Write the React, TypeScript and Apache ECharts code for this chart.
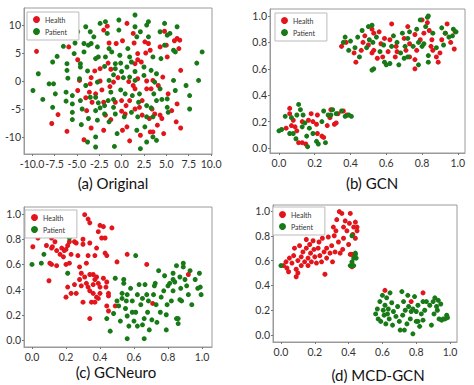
import React, { useEffect, useRef } from "react";
import * as echarts from "echarts";

// ---------- data ----------
const origHealth: number[][] = [
  [-9.5, 5.3], [-5.9, 6.1], [-4.9, 3.8], [-4.7, 0.1], [-4.9, -1.7], [-3.5, -0.5], [-3.6, -2.0], [-4.0, -3.0],
  [-3.3, -3.8], [-3.9, -5.3], [-3.4, -8.4], [-4.2, -10.5], [-6.1, -9.0], [-7.8, -7.6], [-7.1, -6.0], [-1.6, 9.8],
  [-2.0, 9.1], [-1.4, 6.8], [-1.5, 3.2], [-2.4, 2.2], [-1.2, 2.1], [-2.2, -1.6], [-1.3, -1.0], [-0.9, -0.2],
  [-0.4, 0.6], [-2.0, -3.8], [-1.8, -6.1], [-1.2, -6.9], [-2.0, -8.8], [-0.7, -3.8], [0.0, -3.5], [-0.6, 6.7],
  [0.1, 7.2], [0.6, 10.3], [1.3, 8.5], [1.4, 6.8], [1.8, 4.9], [1.8, 3.8], [0.8, -0.1], [1.3, -0.8],
  [1.5, -1.4], [1.8, 0.4], [2.8, 0.0], [2.8, -1.4], [2.3, -3.5], [2.0, -4.7], [2.3, -6.1], [0.4, -5.9],
  [0.6, -8.2], [0.9, -10.7], [2.1, -9.7], [3.2, -9.1], [3.5, -9.1], [4.0, -7.9], [4.5, -6.7], [4.3, -6.1],
  [4.7, -9.4], [3.1, -6.7], [3.7, -5.9], [3.4, -5.0], [3.3, -1.4], [3.5, 0.1], [4.1, -0.8], [4.6, 0.7],
  [5.2, -2.3], [2.6, 7.0], [3.0, 6.7], [3.2, 5.5], [2.7, 5.0], [2.2, 3.4], [4.3, 6.1], [4.8, 8.9],
  [5.0, 6.4], [5.1, 4.3], [5.9, 7.2], [6.2, 7.6], [6.4, 5.8], [6.5, 7.3], [6.6, 1.9], [6.2, -4.1],
  [6.1, -7.3], [6.6, -8.4], [5.6, -5.3], [0.1, -8.8], [0.0, -5.4], [0.5, -4.4], [0.9, -3.5], [1.5, 3.1],
  [-3.0, 1.8], [-3.4, 0.6], [-2.4, 0.0], [-2.9, -2.3], [1.5, -5.0],
];
const origPatient: number[][] = [
  [-9.9, -1.7], [-9.3, 1.3], [-8.8, -3.3], [-8.1, -0.5], [-7.7, 3.4], [-7.7, -4.7], [-7.6, -0.5], [-7.2, 4.4],
  [-7.4, -2.3], [-6.5, 6.2], [-6.1, 3.1], [-6.1, 1.9], [-6.0, 0.5], [-6.2, -2.0], [-6.2, -3.6], [-5.5, -2.6],
  [-5.5, -5.6], [-5.5, -6.9], [-5.5, -4.1], [-5.2, 6.8], [-5.3, 4.9], [-4.6, 3.1], [-4.6, 2.5], [-4.4, -5.0],
  [-4.5, -7.8], [-3.8, -10.9], [-4.2, 5.2], [-4.0, 9.7], [-3.7, 6.4], [-3.8, 1.8], [-3.5, 8.8], [-3.1, 7.9],
  [-2.7, 6.1], [-2.9, 4.0], [-2.6, 4.3], [-2.7, -0.2], [-2.9, -2.9], [-2.6, -3.9], [-2.9, -5.3], [-2.4, -4.8],
  [-2.9, -10.0], [-2.9, -11.8], [-2.4, 10.3], [-1.8, 10.6], [-1.6, 8.5], [-1.4, 5.8], [-1.1, 5.2], [-1.8, 4.3],
  [-1.9, 2.6], [-1.4, 0.1], [-1.2, -2.0], [-1.5, -3.5], [-0.9, -3.3], [-1.9, -4.4], [-0.9, -4.7], [-0.7, -5.9],
  [-1.4, -7.3], [-0.8, -11.7], [-0.5, -9.4], [-0.3, 10.9], [-0.3, 9.1], [-0.2, 4.6], [-0.1, 3.2], [0.0, 1.7],
  [0.2, 0.6], [-0.1, -1.6], [0.4, -2.3], [0.3, -6.4], [0.6, 2.5], [0.7, 5.8], [0.9, 4.3], [1.1, 3.4],
  [1.5, 11.8], [1.5, 9.7], [1.7, 7.9], [2.1, 8.8], [1.5, 1.7], [1.5, 0.1], [2.0, -2.3], [1.9, -3.8],
  [1.8, -6.4], [1.7, -8.8], [2.1, -12.1], [2.6, -8.2], [2.8, -10.9], [3.0, 10.6], [2.8, 10.0], [3.0, 7.9],
  [3.5, 4.3], [3.3, 1.9], [3.9, 1.3], [3.6, -2.3], [3.9, -3.5], [4.5, -3.3], [3.9, -10.6], [3.5, -10.0],
  [4.3, 8.8], [4.4, 4.0], [4.8, 10.3], [5.1, 8.2], [4.8, 6.4], [5.4, 8.5], [5.8, 5.5], [6.0, 5.2],
  [6.2, 9.7], [5.8, 0.1], [6.0, -1.7], [5.1, -4.7], [5.2, -5.6], [7.2, -0.8], [7.6, -2.6], [7.6, -5.0],
  [8.4, 3.2], [8.6, 0.1], [9.0, 5.2], [-4.9, 8.8], [-4.2, 6.7], [-3.4, 6.7], [-4.7, 0.4], [-4.0, -0.8],
  [-3.5, -2.9], [-4.6, -3.5], [-3.7, -6.7], [-2.7, -7.0], [-1.9, -5.9], [-0.7, 2.2], [-0.7, 3.1], [-0.9, 1.1],
  [0.9, 0.7], [2.5, 1.0], [2.5, 2.5], [1.2, -2.6], [2.8, -4.4], [2.8, -6.4], [1.1, -5.6], [3.5, -6.4],
  [3.3, -4.8], [3.7, -0.2], [4.3, -1.4], [5.1, -3.2],
];

const gcnHealth: number[][] = [
  [0.35, 0.77], [0.375, 0.8], [0.42, 0.72], [0.43, 0.65], [0.46, 0.74], [0.47, 0.8], [0.48, 0.85], [0.52, 0.9],
  [0.5, 0.78], [0.52, 0.72], [0.53, 0.74], [0.53, 0.87], [0.56, 0.88], [0.55, 0.68], [0.58, 0.69], [0.57, 0.79],
  [0.63, 0.94], [0.62, 0.82], [0.61, 0.73], [0.65, 0.69], [0.66, 0.73], [0.655, 0.77], [0.7, 0.83], [0.71, 0.74],
  [0.73, 0.69], [0.72, 0.92], [0.76, 0.86], [0.77, 0.74], [0.76, 0.6], [0.76, 0.67], [0.79, 0.82], [0.8, 0.97],
  [0.81, 0.87], [0.83, 0.95], [0.84, 0.89], [0.85, 0.77], [0.86, 0.74], [0.88, 0.69], [0.9, 0.72], [0.91, 0.82],
  [0.93, 0.87], [0.94, 0.94], [0.96, 0.8], [0.98, 0.75], [0.985, 0.88], [0.89, 0.65], [0.855, 0.82], [0.73, 0.79],
  [0.59, 0.83],
  [0.04, 0.15], [0.06, 0.3], [0.06, 0.26], [0.08, 0.21], [0.09, 0.16], [0.1, 0.13], [0.11, 0.04], [0.13, 0.2],
  [0.13, 0.04], [0.15, 0.03], [0.165, 0.21], [0.18, 0.26], [0.21, 0.18], [0.215, 0.25], [0.215, 0.11], [0.24, 0.09],
  [0.25, 0.08], [0.27, 0.17], [0.285, 0.23], [0.29, 0.29], [0.31, 0.18], [0.32, 0.19], [0.33, 0.26], [0.36, 0.28],
  [0.38, 0.25], [0.07, 0.17], [0.19, 0.2],
];
const gcnPatient: number[][] = [
  [0.36, 0.8], [0.37, 0.84], [0.39, 0.74], [0.4, 0.81], [0.425, 0.76], [0.44, 0.84], [0.45, 0.69], [0.465, 0.89],
  [0.49, 0.76], [0.5, 0.92], [0.505, 0.82], [0.52, 0.93], [0.525, 0.8], [0.52, 0.59], [0.53, 0.6], [0.545, 0.84],
  [0.565, 0.73], [0.585, 0.78], [0.59, 0.65], [0.6, 0.63], [0.62, 0.64], [0.63, 0.77], [0.64, 0.85], [0.66, 0.8],
  [0.67, 0.63], [0.68, 0.72], [0.69, 0.87], [0.705, 0.77], [0.72, 0.83], [0.72, 0.69], [0.73, 0.88], [0.75, 0.77],
  [0.77, 0.9], [0.78, 0.8], [0.78, 0.63], [0.79, 0.97], [0.8, 0.77], [0.81, 0.79], [0.82, 0.92], [0.83, 0.99],
  [0.835, 1.0], [0.835, 0.65], [0.835, 0.7], [0.86, 0.87], [0.92, 0.78], [0.93, 0.87], [0.95, 0.84], [0.97, 0.85],
  [0.975, 0.9], [0.99, 0.88], [0.91, 0.91], [0.88, 0.76], [0.7, 0.68],
  [0.0, 0.13], [0.015, 0.14], [0.035, 0.24], [0.07, 0.23], [0.08, 0.11], [0.1, 0.25], [0.11, 0.33], [0.12, 0.29],
  [0.13, 0.16], [0.145, 0.19], [0.155, 0.09], [0.16, 0.01], [0.17, 0.15], [0.19, 0.11], [0.21, 0.05], [0.22, 0.03],
  [0.24, 0.2], [0.25, 0.28], [0.26, 0.04], [0.275, 0.25], [0.29, 0.25], [0.3, 0.29], [0.32, 0.26], [0.35, 0.28],
  [0.37, 0.24], [0.39, 0.25], [0.405, 0.24], [0.06, 0.11], [0.135, 0.25], [0.095, 0.07],
];

const gcneuroHealth: number[][] = [
  [0.005, 0.74], [0.035, 0.81], [0.055, 0.86], [0.085, 0.75], [0.115, 0.81], [0.12, 0.74], [0.115, 0.73], [0.135, 0.78],
  [0.145, 0.71], [0.105, 0.61], [0.115, 0.6], [0.145, 0.59], [0.165, 0.68], [0.175, 0.73], [0.185, 0.66], [0.19, 0.71],
  [0.2, 0.72], [0.21, 0.75], [0.22, 0.78], [0.2, 0.6], [0.22, 0.61], [0.23, 0.68], [0.25, 0.78], [0.26, 0.77],
  [0.27, 0.67], [0.28, 0.58], [0.29, 0.53], [0.3, 0.76], [0.3, 0.8], [0.31, 0.995], [0.33, 0.96], [0.34, 0.93],
  [0.34, 0.77], [0.33, 0.67], [0.32, 0.61], [0.31, 0.5], [0.32, 0.45], [0.33, 0.42], [0.34, 0.52], [0.36, 0.52],
  [0.37, 0.67], [0.38, 0.73], [0.39, 0.86], [0.4, 0.91], [0.42, 0.9], [0.41, 0.81], [0.43, 0.81], [0.43, 0.69],
  [0.44, 0.67], [0.47, 0.89], [0.37, 0.48], [0.38, 0.5], [0.39, 0.45], [0.4, 0.42], [0.4, 0.37], [0.38, 0.34],
  [0.39, 0.33], [0.36, 0.37], [0.35, 0.3], [0.37, 0.3], [0.36, 0.44], [0.34, 0.39], [0.42, 0.49], [0.435, 0.42],
  [0.44, 0.46], [0.45, 0.37], [0.45, 0.35], [0.44, 0.27], [0.45, 0.23], [0.34, 0.17], [0.3, 0.3], [0.26, 0.37],
  [0.25, 0.44], [0.23, 0.37], [0.2, 0.34], [0.21, 0.42], [0.29, 0.43], [0.28, 0.48], [0.1, 0.47], [0.5, 0.62],
  [0.56, 0.68], [0.675, 0.6], [0.71, 0.29], [0.92, 0.52], [0.49, 0.27],
];
const gcneuroPatient: number[][] = [
  [0.0, 0.6], [0.055, 0.61], [0.07, 0.68], [0.21, 0.53], [0.22, 0.81], [0.44, 0.17], [0.46, 0.07], [0.48, 0.21],
  [0.49, 0.49], [0.5, 0.31], [0.51, 0.27], [0.52, 0.15], [0.53, 0.37], [0.53, 0.33], [0.54, 0.48], [0.54, 0.45],
  [0.55, 0.25], [0.555, 0.31], [0.56, 0.36], [0.56, 0.01], [0.56, 0.19], [0.57, 0.11], [0.58, 0.41], [0.59, 0.22],
  [0.59, 0.31], [0.6, 0.15], [0.61, 0.67], [0.61, 0.22], [0.62, 0.36], [0.62, 0.11], [0.63, 0.44], [0.64, 0.28],
  [0.65, 0.12], [0.65, 0.33], [0.66, 0.01], [0.66, 0.17], [0.665, 0.44], [0.675, 0.36], [0.68, 0.22], [0.685, 0.31],
  [0.69, 0.08], [0.705, 0.16], [0.715, 0.36], [0.72, 0.43], [0.725, 0.45], [0.73, 0.28], [0.735, 0.14], [0.745, 0.55],
  [0.755, 0.22], [0.76, 0.34], [0.775, 0.39], [0.78, 0.51], [0.79, 0.2], [0.79, 0.08], [0.795, 0.28], [0.8, 0.43],
  [0.81, 0.45], [0.82, 0.31], [0.83, 0.39], [0.83, 0.48], [0.84, 0.46], [0.85, 0.59], [0.85, 0.17], [0.86, 0.13],
  [0.86, 0.17], [0.87, 0.32], [0.87, 0.5], [0.875, 0.41], [0.88, 0.31], [0.89, 0.61], [0.89, 0.58], [0.9, 0.48],
  [0.91, 0.43], [0.92, 0.36], [0.93, 0.55], [0.94, 0.28], [0.96, 0.48], [0.975, 0.41], [0.985, 0.53], [0.99, 0.42],
  [0.995, 0.36], [0.83, 0.53],
];

const mcdHealth: number[][] = [
  [0.015, 0.56], [0.03, 0.59], [0.035, 0.54], [0.045, 0.51], [0.05, 0.62], [0.065, 0.58], [0.075, 0.64], [0.08, 0.7],
  [0.09, 0.47], [0.09, 0.53], [0.1, 0.6], [0.1, 0.5], [0.11, 0.72], [0.12, 0.63], [0.12, 0.56], [0.13, 0.67],
  [0.14, 0.59], [0.15, 0.7], [0.15, 0.77], [0.16, 0.62], [0.16, 0.56], [0.17, 0.73], [0.175, 0.66], [0.18, 0.59],
  [0.19, 0.76], [0.195, 0.69], [0.2, 0.63], [0.21, 0.58], [0.22, 0.7], [0.225, 0.75], [0.23, 0.64], [0.24, 0.59],
  [0.245, 0.78], [0.255, 0.67], [0.26, 0.49], [0.27, 0.62], [0.27, 0.7], [0.28, 0.79], [0.29, 0.66], [0.3, 0.72],
  [0.305, 0.59], [0.31, 0.87], [0.315, 0.8], [0.32, 0.67], [0.325, 0.84], [0.33, 0.93], [0.34, 0.75], [0.345, 0.995],
  [0.36, 0.98], [0.37, 0.78], [0.37, 0.87], [0.38, 0.92], [0.39, 0.84], [0.4, 0.73], [0.405, 0.9], [0.41, 0.98],
  [0.41, 0.65], [0.42, 0.55], [0.425, 0.81], [0.43, 0.87], [0.44, 0.91], [0.44, 0.78], [0.45, 0.87], [0.45, 0.84],
  [0.42, 0.65], [0.365, 0.69], [0.35, 0.66], [0.615, 0.36], [0.77, 0.27], [0.84, 0.34],
];
const mcdPatient: number[][] = [
  [0.0, 0.56], [0.41, 0.56], [0.42, 0.59], [0.43, 0.62], [0.44, 0.65], [0.44, 0.66], [0.445, 0.62], [0.43, 0.56],
  [0.42, 0.8],
  [0.56, 0.17], [0.57, 0.21], [0.575, 0.13], [0.585, 0.27], [0.59, 0.11], [0.6, 0.32], [0.605, 0.2], [0.61, 0.16],
  [0.615, 0.24], [0.62, 0.09], [0.625, 0.3], [0.63, 0.17], [0.635, 0.21], [0.64, 0.13], [0.645, 0.34], [0.655, 0.26],
  [0.66, 0.08], [0.665, 0.19], [0.68, 0.15], [0.69, 0.23], [0.7, 0.11], [0.705, 0.04], [0.715, 0.35], [0.72, 0.16],
  [0.725, 0.27], [0.73, 0.04], [0.735, 0.2], [0.745, 0.09], [0.75, 0.32], [0.755, 0.23], [0.765, 0.13], [0.77, 0.19],
  [0.78, 0.21], [0.78, 0.01], [0.79, 0.31], [0.8, 0.11], [0.8, 0.19], [0.81, 0.24], [0.81, 0.11], [0.82, 0.07],
  [0.83, 0.17], [0.84, 0.27], [0.84, 0.12], [0.85, 0.2], [0.86, 0.27], [0.88, 0.24], [0.89, 0.08], [0.9, 0.27],
  [0.905, 0.17], [0.91, 0.3], [0.92, 0.23], [0.925, 0.2], [0.93, 0.28], [0.935, 0.13], [0.945, 0.25], [0.95, 0.12],
  [0.96, 0.13], [0.97, 0.13], [0.98, 0.16], [0.985, 0.14],
];

const seriesNames = ["Health", "Patient"];
const captions = ["(a) Original", "(b) GCN", "(c) GCNeuro", "(d) MCD-GCN"];
const origXTicks = [-10, -7.5, -5, -2.5, 0, 2.5, 5, 7.5, 10];
const origYTicks = [-10, -5, 0, 5, 10];
const unitTicks = [0, 0.2, 0.4, 0.6, 0.8, 1.0];

// ---------- layout ----------
const RED = "#e3151c";
const GREEN = "#177a17";
const BORDER = "#9a9a9a";
const FONT = "Lato";

const fmt1 = (v: number) => v.toFixed(1);
const fmt0 = (v: number) => String(v);

const panels = [
  { grid: { left: 24, top: 8, width: 188, height: 146 }, x: [-10.9, 10.1], y: [-13.05, 13.05], xt: origXTicks, yt: origYTicks, xf: fmt1, yf: fmt0, legend: { left: 27, top: 12 }, cap: { x: 113, y: 183 }, data: [origHealth, origPatient] },
  { grid: { left: 270, top: 9, width: 195, height: 144 }, x: [-0.05, 1.04], y: [-0.038, 1.053], xt: unitTicks, yt: unitTicks, xf: fmt1, yf: fmt1, legend: { left: 275, top: 13 }, cap: { x: 372, y: 183 }, data: [gcnHealth, gcnPatient] },
  { grid: { left: 24, top: 207, width: 188, height: 140 }, x: [-0.047, 1.059], y: [-0.056, 1.056], xt: unitTicks, yt: unitTicks, xf: fmt1, yf: fmt1, legend: { left: 25, top: 210 }, cap: { x: 116, y: 372 }, data: [gcneuroHealth, gcneuroPatient] },
  { grid: { left: 273, top: 205, width: 184, height: 137 }, x: [-0.047, 1.041], y: [-0.056, 1.048], xt: unitTicks, yt: unitTicks, xf: fmt1, yf: fmt1, legend: { left: 273, top: 207 }, cap: { x: 378, y: 375 }, data: [mcdHealth, mcdPatient] },
];

export default function App() {
  const ref = useRef<HTMLDivElement>(null);
  useEffect(() => {
    if (!ref.current) return;
    const chart = echarts.init(ref.current, null, { renderer: "svg" });
    const axisLine = { show: true, onZero: false, lineStyle: { color: BORDER, width: 1 } };
    const tick = { show: true, length: 2, inside: false, lineStyle: { color: "#777" } };
    const labelBase = { fontSize: 10.5, color: "#333", fontFamily: FONT, hideOverlap: false, showMinLabel: true, showMaxLabel: true };
    const option: any = {
      animation: false,
      backgroundColor: "#fff",
      grid: panels.map((p) => ({ ...p.grid, show: true, borderColor: BORDER, borderWidth: 1, backgroundColor: "transparent" })),
      xAxis: panels.map((p, i) => ({
        type: "value",
        gridIndex: i,
        min: p.x[0],
        max: p.x[1],
        axisLine,
        splitLine: { show: false },
        axisTick: { ...tick, customValues: p.xt },
        axisLabel: { ...labelBase, customValues: p.xt, formatter: p.xf, margin: 4 },
      })),
      yAxis: panels.map((p, i) => ({
        type: "value",
        gridIndex: i,
        min: p.y[0],
        max: p.y[1],
        axisLine,
        splitLine: { show: false },
        axisTick: { ...tick, customValues: p.yt },
        axisLabel: { ...labelBase, customValues: p.yt, formatter: p.yf, margin: 3 },
      })),
      legend: panels.map((p) => ({
        data: seriesNames,
        orient: "vertical",
        left: p.legend.left,
        top: p.legend.top,
        icon: "circle",
        itemWidth: 7,
        itemHeight: 7,
        itemGap: 5,
        padding: [4, 12, 5, 6],
        borderColor: "#bbb",
        borderWidth: 1,
        backgroundColor: "#fff",
        selectedMode: false,
        textStyle: { fontSize: 7, color: "#333", fontFamily: FONT },
      })),
      series: panels.flatMap((p, i) =>
        p.data.map((d, k) => ({
          type: "scatter",
          name: seriesNames[k],
          xAxisIndex: i,
          yAxisIndex: i,
          data: d,
          symbol: "circle",
          symbolSize: 5,
          itemStyle: { color: k === 0 ? RED : GREEN, opacity: 1 },
        }))
      ),
      graphic: panels.map((p, i) => ({
        type: "text",
        x: p.cap.x,
        y: p.cap.y,
        style: { text: captions[i], fontSize: 15, fontFamily: FONT, fill: "#111", textAlign: "center", textVerticalAlign: "middle" },
      })),
    };
    chart.setOption(option);
    return () => chart.dispose();
  }, []);
  return <div ref={ref} style={{ position: "fixed", left: 0, top: 0, width: 474, height: 385 }} />;
}
